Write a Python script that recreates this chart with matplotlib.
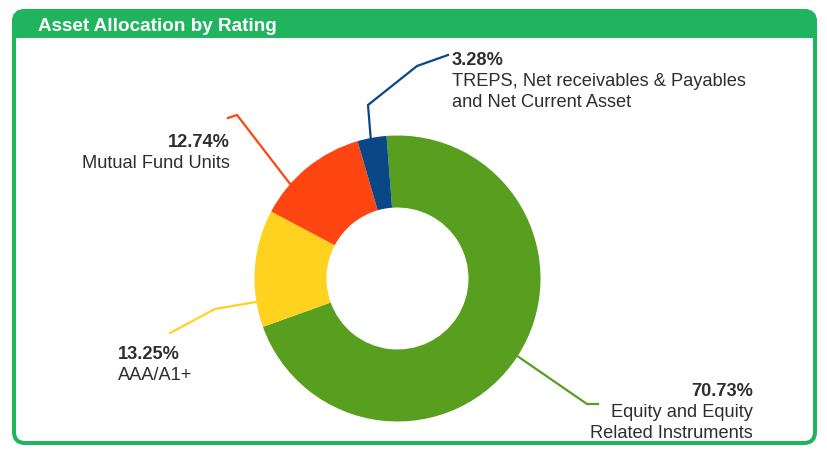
import matplotlib
matplotlib.use("Agg")
import matplotlib.pyplot as plt
from matplotlib.patches import FancyBboxPatch, Rectangle
import numpy as np

plt.rcParams['font.family'] = ['Liberation Sans', 'DejaVu Sans']

# ---- data ----
title = "Asset Allocation by Rating"
categories = ["Equity and Equity\nRelated Instruments", "AAA/A1+", "Mutual Fund Units",
              "TREPS, Net receivables & Payables\nand Net Current Asset"]
values = [70.73, 13.25, 12.74, 3.28]
pct_labels = ["70.73%", "13.25%", "12.74%", "3.28%"]
colors = ["#589E1F", "#FFD21F", "#FF4511", "#0A4786"]

# ---- layout (pixel coordinates, y downward) ----
W, H = 827, 452
cx, cy, R, r_in = 397.5, 279.5, 143.0, 71.0
start_angle = 94.4
border_col = "#21B45F"
text_col = "#2e2e2e"
# leader: angle offset from wedge mid (deg), elbow points, label anchor, alignment
leader_offsets = [0.0, 13.5, 9.5, 0.5]
elbows = [[(587, 405), (598, 405)],
          [(215, 310), (170, 334)],
          [(237, 116), (228, 119)],
          [(368, 106), (417, 67), (448, 56)]]
label_pos = [(753, 396, 'right'), (118, 359, 'left'), (230, 147, 'right'), (452, 65, 'left')]
line_gap = 20.8
fs = 13.15

fig = plt.figure(figsize=(W / 100, H / 100), dpi=100)
ov = fig.add_axes([0, 0, 1, 1])
ov.set_xlim(0, W)
ov.set_ylim(H, 0)
ov.axis('off')

# frame
frame = FancyBboxPatch((14, 12), 801, 432, boxstyle="round,pad=0,rounding_size=11",
                       facecolor='white', edgecolor=border_col, linewidth=2.9, zorder=1)
ov.add_patch(frame)
header = FancyBboxPatch((14, 12), 801, 60, boxstyle="round,pad=0,rounding_size=11",
                        facecolor=border_col, edgecolor=border_col, linewidth=2.9, zorder=2)
ov.add_patch(header)
clip = Rectangle((0, 0), W, 38.5, transform=ov.transData)
header.set_clip_path(clip)
ov.text(38, 31, title, color='white', fontsize=13.6, fontweight='bold',
        ha='left', va='baseline', zorder=3)

# pie
pax = fig.add_axes([(cx - R) / W, (H - cy - R) / H, 2 * R / W, 2 * R / H])
wedges, _ = pax.pie(values, colors=colors, startangle=start_angle, counterclock=False,
                    radius=1.0, wedgeprops=dict(width=1 - r_in / R, linewidth=0))
pax.set_xlim(-1, 1)
pax.set_ylim(-1, 1)
pax.set_aspect('auto')
pax.axis('off')

# leaders and labels
for w, off, elb, (lx, ly, ha), pct, name, col in zip(wedges, leader_offsets, elbows,
                                                     label_pos, pct_labels, categories, colors):
    mid = 0.5 * (w.theta1 + w.theta2) + off
    sx = cx + R * np.cos(np.radians(mid))
    sy = cy - R * np.sin(np.radians(mid))
    xs = [sx] + [p[0] for p in elb]
    ys = [sy] + [p[1] for p in elb]
    ov.plot(xs, ys, color=col, linewidth=1.6, zorder=4, solid_joinstyle='miter')
    ov.text(lx, ly, pct, color=text_col, fontsize=fs, fontweight='bold', ha=ha,
            va='baseline', zorder=5)
    for i, line in enumerate(name.split('\n')):
        ov.text(lx, ly + line_gap * (i + 1), line, color=text_col, fontsize=fs,
                ha=ha, va='baseline', zorder=5)

fig.savefig("out.png", dpi=100)
